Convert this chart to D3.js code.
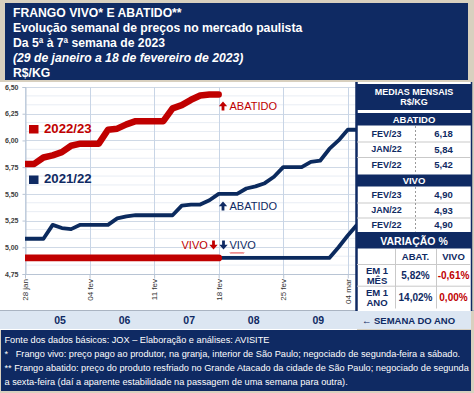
<!DOCTYPE html>
<html><head><meta charset="utf-8">
<script src="https://cdn.jsdelivr.net/npm/d3@7"></script>
<style>html,body{margin:0;padding:0;background:#fff}svg{display:block;font-family:"Liberation Sans",Arial,sans-serif}</style>
</head><body><svg id="c" width="474" height="393"></svg>
<script>
// ---------------- DATA ----------------
const titleLines = [
  "FRANGO VIVO* E ABATIDO**",
  "Evolução semanal de preços no mercado paulista",
  "Da 5ª à 7ª semana de 2023",
  "(29 de janeiro a 18 de fevereiro de 2023)",
  "R$/KG"
];
const dateTickDays = [0, 7, 14, 21, 28, 35];
const dateTickLabels = ["28 jan", "04 fev", "11 fev", "18 fev", "25 fev", "04 mar"];
const yTicks = [4.75, 5.00, 5.25, 5.50, 5.75, 6.00, 6.25, 6.50];
const weekLabels = ["05", "06", "07", "08", "09"];
const weekStartDays = [0, 7, 14, 21, 28];

// daily values, day 0 = 28 jan
const abatido2223 = [5.78,5.78,5.84,5.86,5.89,5.95,5.97,5.97,5.97,6.10,6.11,6.15,6.18,6.18,6.18,6.18,6.30,6.33,6.38,6.42,6.43,6.43];
const vivo2223    = [4.90,4.90,4.90,4.90,4.90,4.90,4.90,4.90,4.90,4.90,4.90,4.90,4.90,4.90,4.90,4.90,4.90,4.90,4.90,4.90,4.90,4.90];
const abatido2122 = [5.08,5.08,5.08,5.21,5.18,5.17,5.21,5.21,5.21,5.21,5.27,5.29,5.30,5.30,5.30,5.30,5.30,5.39,5.40,5.40,5.44,5.50,5.50,5.50,5.55,5.57,5.60,5.66,5.75,5.75,5.75,5.80,5.81,5.92,6.00,6.10,6.10];
const vivo2122    = [4.90,4.90,4.90,4.90,4.90,4.90,4.90,4.90,4.90,4.90,4.90,4.90,4.90,4.90,4.90,4.90,4.90,4.90,4.90,4.90,4.90,4.90,4.90,4.90,4.90,4.90,4.90,4.90,4.90,4.90,4.90,4.90,4.90,4.90,5.00,5.11,5.21];

const seriesNames = ["2022/23", "2021/22"];

const mediaMonths = ["FEV/23", "JAN/22", "FEV/22"];
const mediaAbatido = [6.18, 5.84, 5.42];
const mediaVivo = [4.90, 4.93, 4.90];
const varRows = [["EM 1", "MÊS"], ["EM 1", "ANO"]];
const varAbatido = [5.82, 14.02];
const varVivo = [-0.61, 0.00];

const footerLines = [
  "Fonte dos dados básicos: JOX – Elaboração e análises: AVISITE",
  "*   Frango vivo: preço pago ao produtor, na granja, interior de São Paulo; negociado de segunda-feira a sábado.",
  "** Frango abatido: preço do produto resfriado no Grande Atacado da cidade de São Paulo; negociado de segunda",
  "a sexta-feira (daí a aparente estabilidade na passagem de uma semana para outra)."
];

// ---------------- DRAW ----------------
const NAVY = "#0f2a63", LINE_NAVY = "#0b2a5e", RED = "#c00000", BAND = "#dce6f2";
const svg = d3.select("#c");
const fmt2 = v => d3.format(".2f")(v).replace(".", ",");
const fmtPct = v => d3.format(".2f")(v).replace(".", ",").replace("−", "-") + "%";

svg.append("rect").attr("width", 474).attr("height", 393).attr("fill", "#d8d0bf");
svg.append("rect").attr("x", 0).attr("y", 82).attr("width", 357).attr("height", 248).attr("fill", "#fff");

// header
svg.append("rect").attr("x", 5).attr("y", 3).attr("width", 463).attr("height", 77).attr("fill", NAVY);
svg.append("g").selectAll("text").data(titleLines).join("text")
  .attr("x", 13).attr("y", (d, i) => 16.5 + i * 15)
  .attr("fill", "#fff").attr("font-weight", "bold").attr("font-size", 12.2)
  .attr("font-style", (d, i) => i === 3 ? "italic" : "normal")
  .text(d => d);

// scales
const x = d3.scaleLinear().domain([0, 36]).range([25, 357]);
const y = d3.scaleLinear().domain([4.75, 6.5]).range([274, 87]);

// gridlines
const grid = svg.append("g");
const minor = [];
for (let i = 0; i < yTicks.length - 1; i++) { minor.push(yTicks[i] + 0.25 / 3, yTicks[i] + 0.5 / 3); }
grid.selectAll(".mi").data(minor).join("line")
  .attr("x1", 25).attr("x2", 356).attr("y1", d => y(d)).attr("y2", d => y(d))
  .attr("stroke", "#e8edf4").attr("stroke-width", 1);
grid.selectAll(".ma").data(yTicks).join("line")
  .attr("x1", 25).attr("x2", 356).attr("y1", d => Math.round(y(d)) + 0.5).attr("y2", d => Math.round(y(d)) + 0.5)
  .attr("stroke", "#cfd9e6").attr("stroke-width", 1);
grid.selectAll(".v").data(dateTickDays).join("line")
  .attr("x1", d => Math.round(x(d)) + 0.5).attr("x2", d => Math.round(x(d)) + 0.5).attr("y1", 87).attr("y2", 274)
  .attr("stroke", "#c8d5e6").attr("stroke-width", 1);

// axes
const yAxis = svg.append("g").attr("transform", "translate(25.5,0)")
  .call(d3.axisLeft(y).tickValues(yTicks).tickSize(3).tickFormat(fmt2));
yAxis.select(".domain").attr("stroke", "#b8c4d4");
yAxis.selectAll(".tick line").attr("stroke", "#b8c4d4");
yAxis.selectAll("text").attr("font-size", 7).attr("font-weight", "bold").attr("fill", "#404040")
  .attr("font-family", "Liberation Sans, Arial, sans-serif").attr("x", -7);

const xAxis = svg.append("g").attr("transform", "translate(0,274.5)")
  .call(d3.axisBottom(x).tickValues(dateTickDays).tickSize(4).tickFormat(""));
xAxis.select(".domain").attr("stroke", "#b8c4d4").attr("d", "M25,0H356");
xAxis.selectAll(".tick line").attr("stroke", "#b8c4d4");
svg.append("g").selectAll("text").data(dateTickDays).join("text")
  .attr("transform", d => `translate(${x(d) + 3},279) rotate(-90)`)
  .attr("text-anchor", "end").attr("font-size", 8).attr("fill", "#333")
  .text((d, i) => dateTickLabels[i]);

// lines
svg.append("clipPath").attr("id", "plotclip").append("rect")
  .attr("x", 25).attr("y", 80).attr("width", 331).attr("height", 200);
const line = d3.line().x((d, i) => x(i)).y(d => y(d));
const lines = svg.append("g").attr("clip-path", "url(#plotclip)");
lines.append("path").datum(vivo2122).attr("d", line).attr("fill", "none")
  .attr("stroke", LINE_NAVY).attr("stroke-width", 3.8).attr("stroke-linejoin", "round");
lines.append("path").datum(abatido2122).attr("d", line).attr("fill", "none")
  .attr("stroke", LINE_NAVY).attr("stroke-width", 3.8).attr("stroke-linejoin", "round");
lines.append("path").datum(vivo2223).attr("d", line).attr("fill", "none")
  .attr("stroke", RED).attr("stroke-width", 6.8).attr("stroke-linejoin", "round").attr("stroke-linecap", "round");
lines.append("path").datum(abatido2223).attr("d", line).attr("fill", "none")
  .attr("stroke", RED).attr("stroke-width", 6.5).attr("stroke-linejoin", "round").attr("stroke-linecap", "round");

// legend
const leg = svg.append("g");
[[RED, 125, seriesNames[0], 133], [NAVY, 175.5, seriesNames[1], 183]].forEach(([c, sy, t, by]) => {
  leg.append("rect").attr("x", 29).attr("y", sy).attr("width", 9.5).attr("height", 8.5).attr("fill", c);
  leg.append("text").attr("x", 44).attr("y", by).attr("fill", c).attr("font-weight", "bold")
    .attr("font-size", 13.2).text(t);
});

// annotations
function arrow(g, cx, top, h, up, color) {
  const hw = 4.2, hh = 4.8, sw = 1.4;
  let p;
  if (up) {
    p = `M${cx},${top} L${cx + hw},${top + hh} L${cx + sw},${top + hh} L${cx + sw},${top + h} L${cx - sw},${top + h} L${cx - sw},${top + hh} L${cx - hw},${top + hh} Z`;
  } else {
    const b = top + h;
    p = `M${cx},${b} L${cx + hw},${b - hh} L${cx + sw},${b - hh} L${cx + sw},${top} L${cx - sw},${top} L${cx - sw},${b - hh} L${cx - hw},${b - hh} Z`;
  }
  g.append("path").attr("d", p).attr("fill", color);
}
const ann = svg.append("g").attr("font-size", 11);
arrow(ann, 223, 101.5, 9, true, RED);
ann.append("text").attr("x", 229.5).attr("y", 110).attr("fill", RED).text("ABATIDO");
arrow(ann, 223, 201.5, 9, true, NAVY);
ann.append("text").attr("x", 229.5).attr("y", 210).attr("fill", NAVY).text("ABATIDO");
ann.append("text").attr("x", 181.5).attr("y", 249).attr("fill", RED).text("VIVO");
arrow(ann, 213.5, 240.5, 9, false, RED);
arrow(ann, 223.5, 240.5, 9, false, NAVY);
ann.append("text").attr("x", 229.5).attr("y", 249).attr("fill", NAVY).text("VIVO");
// spell-check squiggle under navy VIVO
let sq = "M230,252.3";
for (let i = 0; i < 14; i++) sq += ` l1,${i % 2 ? -1.2 : 1.2}`;
ann.append("path").attr("d", sq).attr("fill", "none").attr("stroke", "#e03030").attr("stroke-width", 0.9);

// week band
svg.append("rect").attr("x", 0).attr("y", 311).attr("width", 357).attr("height", 18).attr("fill", BAND);
svg.append("line").attr("x1", 0).attr("x2", 474).attr("y1", 310.5).attr("y2", 310.5).attr("stroke", "#aab4c2");
svg.append("g").selectAll("text").data(weekLabels).join("text")
  .attr("x", (d, i) => x(weekStartDays[i] + 3.8)).attr("y", 323.5)
  .attr("text-anchor", "middle").attr("font-weight", "bold").attr("font-size", 10.5).attr("fill", NAVY)
  .text(d => d);

// table
const T = svg.append("g");
const tx0 = 357, tx1 = 471, tw = tx1 - tx0;
T.append("rect").attr("x", tx0).attr("y", 82).attr("width", tw).attr("height", 247).attr("fill", "#fff");
T.append("rect").attr("x", tx0).attr("y", 311).attr("width", tw).attr("height", 18).attr("fill", BAND);
T.append("line").attr("x1", tx0 - 0.5).attr("x2", tx0 - 0.5).attr("y1", 82).attr("y2", 311).attr("stroke", NAVY).attr("stroke-width", 2.5);
T.append("line").attr("x1", tx1 + 0.5).attr("x2", tx1 + 0.5).attr("y1", 82).attr("y2", 311).attr("stroke", NAVY).attr("stroke-width", 1.5);

const band = (y0, h) => T.append("rect").attr("x", tx0).attr("y", y0).attr("width", tw).attr("height", h).attr("fill", NAVY);
const ttext = (tx, ty, t, opts = {}) => T.append("text").attr("x", tx).attr("y", ty)
  .attr("text-anchor", opts.anchor || "middle").attr("dominant-baseline", "central")
  .attr("font-weight", "bold").attr("font-size", opts.size || 9)
  .attr("fill", opts.color || NAVY).text(t);

band(84, 26);
ttext(414, 92, "MEDIAS MENSAIS", { color: "#fff" });
ttext(414, 102, "R$/KG", { color: "#fff" });
band(113, 12.5);
ttext(414, 119.5, "ABATIDO", { color: "#fff", size: 9.5 });

const rowSep = (yy, c = "#c9c9c9") => T.append("line").attr("x1", tx0).attr("x2", tx1).attr("y1", yy).attr("y2", yy).attr("stroke", c).attr("stroke-width", 1);
const abRows = [[126, 141.5], [141.5, 157], [157, 172.5]];
const viRows = [[187, 202.5], [202.5, 217.5], [217.5, 231.5]];
abRows.forEach(([a, b], i) => {
  ttext(386.5, (a + b) / 2, mediaMonths[i]);
  ttext(443.5, (a + b) / 2, fmt2(mediaAbatido[i]), { size: 9.5 });
  if (i > 0) rowSep(a + 0.5);
});
T.append("line").attr("x1", 415.5).attr("x2", 415.5).attr("y1", 126).attr("y2", 172.5)
  .attr("stroke", "#9a9a9a").attr("stroke-dasharray", "2,2");
band(174.5, 12);
ttext(414, 180.8, "VIVO", { color: "#fff", size: 9.5 });
viRows.forEach(([a, b], i) => {
  ttext(386.5, (a + b) / 2, mediaMonths[i]);
  ttext(443.5, (a + b) / 2, fmt2(mediaVivo[i]), { size: 9.5 });
  if (i > 0) rowSep(a + 0.5);
});
T.append("line").attr("x1", 415.5).attr("x2", 415.5).attr("y1", 187).attr("y2", 231.5)
  .attr("stroke", "#9a9a9a").attr("stroke-dasharray", "2,2");

band(232, 16.5);
ttext(414, 240.5, "VARIAÇÃO %", { color: "#fff", size: 10.5 });
ttext(415.5, 256.8, "ABAT.", { size: 9.5 });
ttext(453.5, 256.8, "VIVO", { size: 9.5 });
const vRows = [[265, 286], [286.5, 308.5]];
vRows.forEach(([a, b], i) => {
  const c = (a + b) / 2;
  ttext(377, c - 4.8, varRows[i][0], { size: 9.5 });
  ttext(377, c + 4.8, varRows[i][1], { size: 9.5 });
  ttext(415.5, c, fmtPct(varAbatido[i]), { size: 10 });
  ttext(453.5, c, fmtPct(varVivo[i]), { size: 10, color: RED });
});
rowSep(264.5); rowSep(286.2);
[395.5, 436.5].forEach(xx => T.append("line").attr("x1", xx).attr("x2", xx).attr("y1", 249).attr("y2", 308.5).attr("stroke", "#c9c9c9"));
ttext(408.5, 320, "← SEMANA DO ANO", { size: 9.5 });

// footer
svg.append("rect").attr("x", 1).attr("y", 330).attr("width", 470).attr("height", 61).attr("fill", NAVY);
svg.append("g").selectAll("text").data(footerLines).join("text")
  .attr("x", 4.5).attr("y", (d, i) => 342.5 + i * 14.2)
  .attr("fill", "#fff").attr("font-size", 9.2)
  .style("white-space", "pre")
  .text(d => d);
</script></body></html>
